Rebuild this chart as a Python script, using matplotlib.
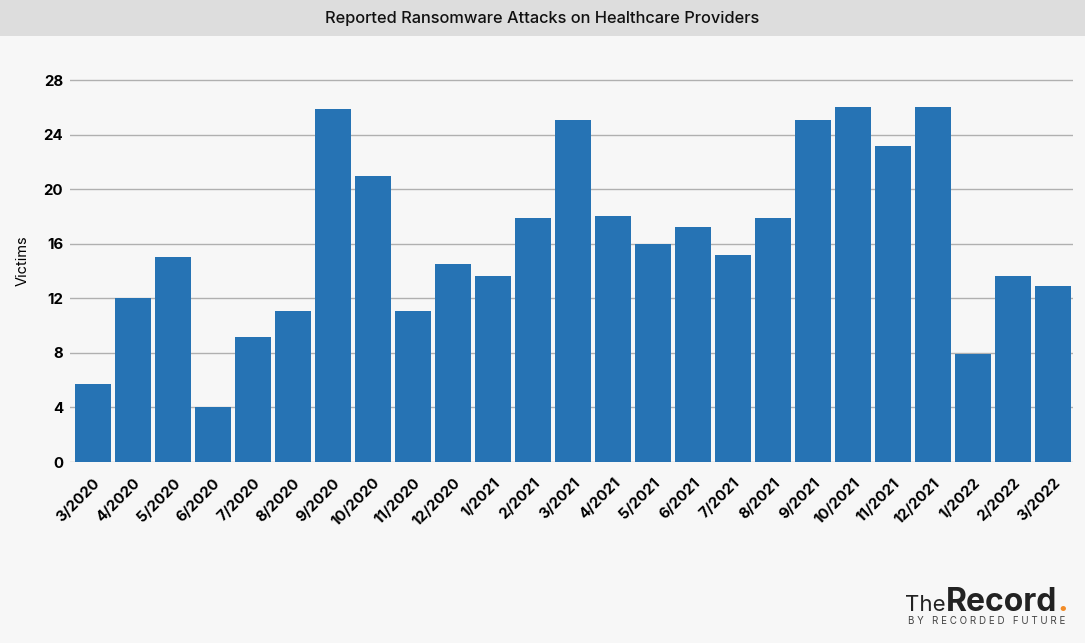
import matplotlib.pyplot as plt
from matplotlib.patches import Rectangle

plt.rcParams['font.family'] = ['Inter', 'DejaVu Sans']

months = ['3/2020', '4/2020', '5/2020', '6/2020', '7/2020', '8/2020', '9/2020',
          '10/2020', '11/2020', '12/2020', '1/2021', '2/2021', '3/2021', '4/2021',
          '5/2021', '6/2021', '7/2021', '8/2021', '9/2021', '10/2021', '11/2021',
          '12/2021', '1/2022', '2/2022', '3/2022']
victims = [5.7, 12.0, 15.0, 4.0, 9.2, 11.1, 25.9, 21.0, 11.1, 14.5, 13.6, 17.9,
           25.1, 18.0, 16.0, 17.2, 15.2, 17.9, 25.1, 26.0, 23.2, 26.0, 7.9, 13.6, 12.9]
yticks = [0, 4, 8, 12, 16, 20, 24, 28]

bg = '#f7f7f7'
bar_color = '#2673b4'

fig = plt.figure(figsize=(10.85, 6.43), dpi=100, facecolor=bg)

# title band
fig.patches.append(Rectangle((0, 1 - 36/643), 1, 36/643, transform=fig.transFigure,
                             facecolor='#dddddd', edgecolor='none', zorder=0))
fig.text(0.5, 1 - 18/643, 'Reported Ransomware Attacks on Healthcare Providers',
         ha='center', va='center', fontsize=11.8, fontweight='medium', color='#111111')

ax = fig.add_axes([70/1085, (643-462)/643, 1003/1085, (462-59.6)/643])
ax.set_facecolor(bg)
x = range(len(months))
ax.bar(x, victims, width=0.9, color=bar_color, zorder=3)

ax.set_xlim(-0.575, 24.5)
ax.set_ylim(0, 29.5)
ax.set_yticks(yticks)
ax.set_yticklabels([str(t) for t in yticks], fontweight='bold', fontsize=10.8)
ax.set_xticks(list(x))
ax.set_xticklabels(months, rotation=45, ha='right', rotation_mode='anchor',
                   fontweight='bold', fontsize=10.8)
ax.tick_params(axis='y', length=0, pad=5)
ax.tick_params(axis='x', length=0, pad=10)
ax.grid(axis='y', color='#b0b0b0', linewidth=1, zorder=0)
for s in ax.spines.values():
    s.set_visible(False)
ax.set_ylabel('Victims', fontsize=10.5, labelpad=10)

# logo
fig.text(905/1085, 1 - 611/643, 'The', fontsize=16, color='#222222', ha='left', va='baseline')
fig.text(946/1085, 1 - 611/643, 'Record', fontsize=23, fontweight='bold',
         color='#222222', ha='left', va='baseline')
fig.text(1057/1085, 1 - 611/643, '.', fontsize=23, fontweight='bold',
         color='#f28c28', ha='left', va='baseline')
fig.text(1065/1085, 1 - 624/643, 'B Y   R E C O R D E D   F U T U R E', fontsize=7,
         color='#444444', ha='right', va='baseline')

fig.savefig('out.png', dpi=100, facecolor=bg)
